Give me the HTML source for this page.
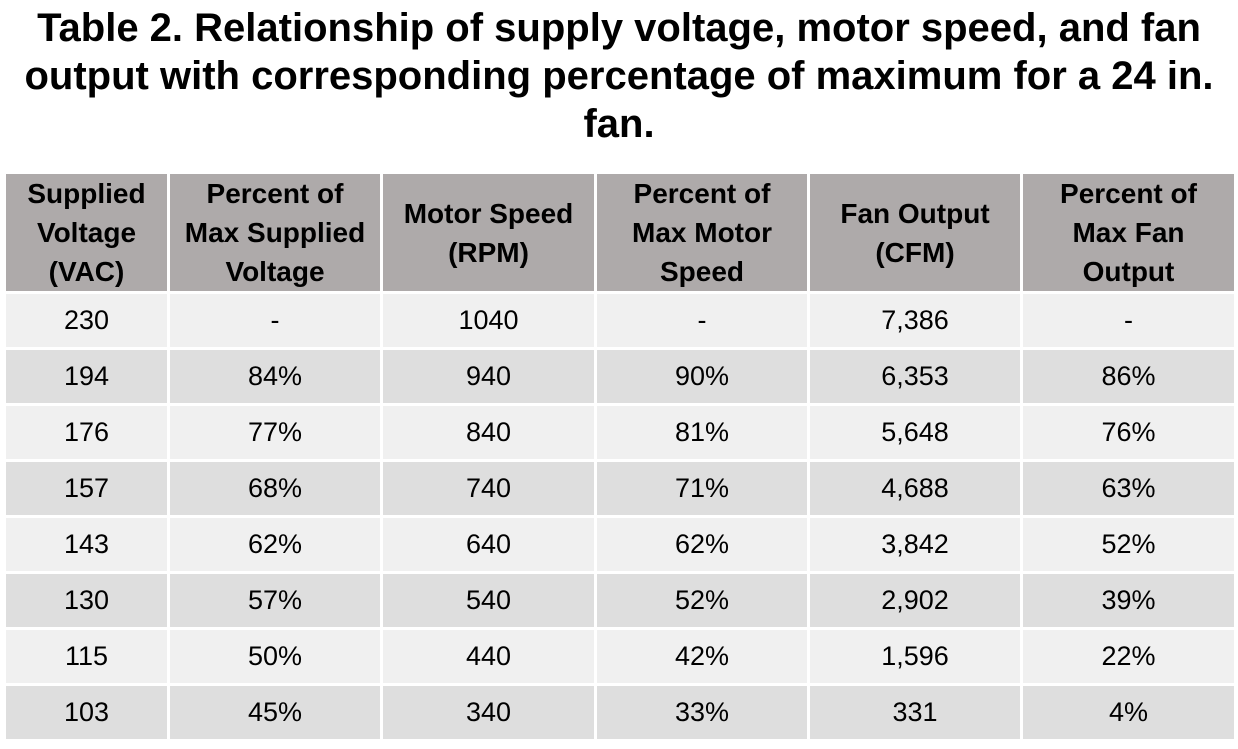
<!DOCTYPE html>
<html><head><meta charset="utf-8"><style>
body{margin:0;width:1238px;height:749px;background:#fff;font-family:"Liberation Sans",Arial,sans-serif;overflow:hidden}
h1{margin:0;position:absolute;top:4px;left:0;width:1238px;text-align:center;font-size:40px;line-height:48px;font-weight:bold;color:#000;white-space:nowrap}
table{position:absolute;left:3px;top:171px;border-collapse:collapse;table-layout:fixed}
td,th{border:3px solid #fff;text-align:center;padding:0;color:#000}
th{background:#aeaaaa;height:111px;font-size:28px;line-height:39px;font-weight:bold}
td{height:53px;font-size:27px}
tr.o td{background:#f0f0f0}
tr.e td{background:#dedede}
</style></head><body>
<h1>Table 2. Relationship of supply voltage, motor speed, and fan<br>output with corresponding percentage of maximum for a 24 in.<br>fan.</h1>
<table>
<colgroup><col style="width:164px"><col style="width:213px"><col style="width:214px"><col style="width:213px"><col style="width:213px"><col style="width:214px"></colgroup>
<tr><th>Supplied<br>Voltage<br>(VAC)</th><th>Percent of<br>Max Supplied<br>Voltage</th><th>Motor Speed<br>(RPM)</th><th>Percent of<br>Max Motor<br>Speed</th><th>Fan Output<br>(CFM)</th><th>Percent of<br>Max Fan<br>Output</th></tr>
<tr class="o"><td>230</td><td>-</td><td>1040</td><td>-</td><td>7,386</td><td>-</td></tr>
<tr class="e"><td>194</td><td>84%</td><td>940</td><td>90%</td><td>6,353</td><td>86%</td></tr>
<tr class="o"><td>176</td><td>77%</td><td>840</td><td>81%</td><td>5,648</td><td>76%</td></tr>
<tr class="e"><td>157</td><td>68%</td><td>740</td><td>71%</td><td>4,688</td><td>63%</td></tr>
<tr class="o"><td>143</td><td>62%</td><td>640</td><td>62%</td><td>3,842</td><td>52%</td></tr>
<tr class="e"><td>130</td><td>57%</td><td>540</td><td>52%</td><td>2,902</td><td>39%</td></tr>
<tr class="o"><td>115</td><td>50%</td><td>440</td><td>42%</td><td>1,596</td><td>22%</td></tr>
<tr class="e"><td>103</td><td>45%</td><td>340</td><td>33%</td><td>331</td><td>4%</td></tr>
</table>
</body></html>
